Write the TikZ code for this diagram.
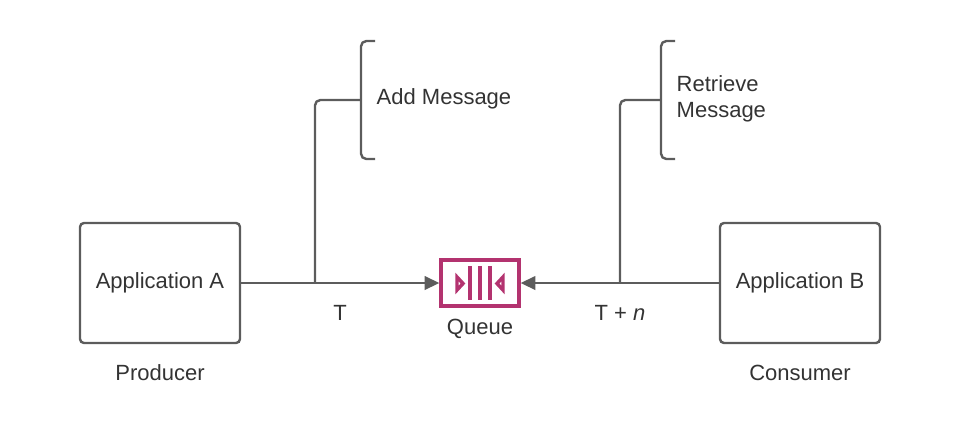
\documentclass[tikz,border=0pt]{standalone}
\usepackage{fontspec}
\setmainfont{Liberation Sans}
\usetikzlibrary{arrows.meta}
\definecolor{ln}{HTML}{5C5C5C}
\definecolor{qc}{HTML}{B3336F}
\definecolor{tx}{HTML}{333333}
\begin{document}
\begin{tikzpicture}[x=0.75pt,y=-0.75pt,
  appbox/.style={draw=ln,line width=1.8pt,rounded corners=3pt,minimum width=120pt,minimum height=90pt,font=\fontsize{16.5}{19.5}\selectfont,text=tx},
  lbl/.style={font=\fontsize{16.5}{19.5}\selectfont,text=tx},
  conn/.style={draw=ln,line width=1.8pt},
  brace/.style={draw=ln,line width=1.8pt,rounded corners=4pt}]
\useasboundingbox (0,0) rectangle (960,444);
\node[appbox] (A) at (160,283) {\raisebox{-1.5pt}{Application A}};
\node[appbox] (B) at (800,283) {\raisebox{-1.5pt}{Application B}};
\node[draw=qc,line width=2.4pt,minimum width=58.5pt,minimum height=34.5pt,inner sep=0pt] (Q) at (480,283) {};
\draw[qc,line width=2.6pt] (470,266)--(470,300) (480,266)--(480,300) (490,266)--(490,300);
\draw[qc,line width=2.6pt,line join=miter] (457,277)--(463,283.5)--(457,290)--cycle;
\draw[qc,line width=2.6pt,line join=miter] (503,277)--(497,283.5)--(503,290)--cycle;
\node[lbl] (ql) at (480,329) {Queue};
\coordinate (ja) at (315,283);
\coordinate (jb) at (620,283);
\draw[conn,-{Triangle[length=11pt,width=10pt]}] (A.east) -- (Q.west);
\draw[conn,-{Triangle[length=11pt,width=10pt]}] (B.west) -- (Q.east);
\coordinate (ba) at (361,100);
\coordinate (bb) at (661,100);
\draw[conn,rounded corners=4pt] (ja) |- (ba);
\draw[conn,rounded corners=4pt] (jb) |- (bb);
\draw[brace] (375,41) -| (361,159) -- (375,159);
\draw[brace] (675,41) -| (661,159) -- (675,159);
\node[lbl,anchor=west] (am) at (372,99) {Add Message};
\node[lbl,anchor=west,align=left] (rm) at (672,99) {Retrieve\\Message};
\node[lbl] (t) at (340,313) {T};
\node[lbl] (tn) at (620,313) {T + \textit{n}};
\node[lbl] (p) at (160,373) {Producer};
\node[lbl] (c) at (800,373) {Consumer};
\end{tikzpicture}
\end{document}
